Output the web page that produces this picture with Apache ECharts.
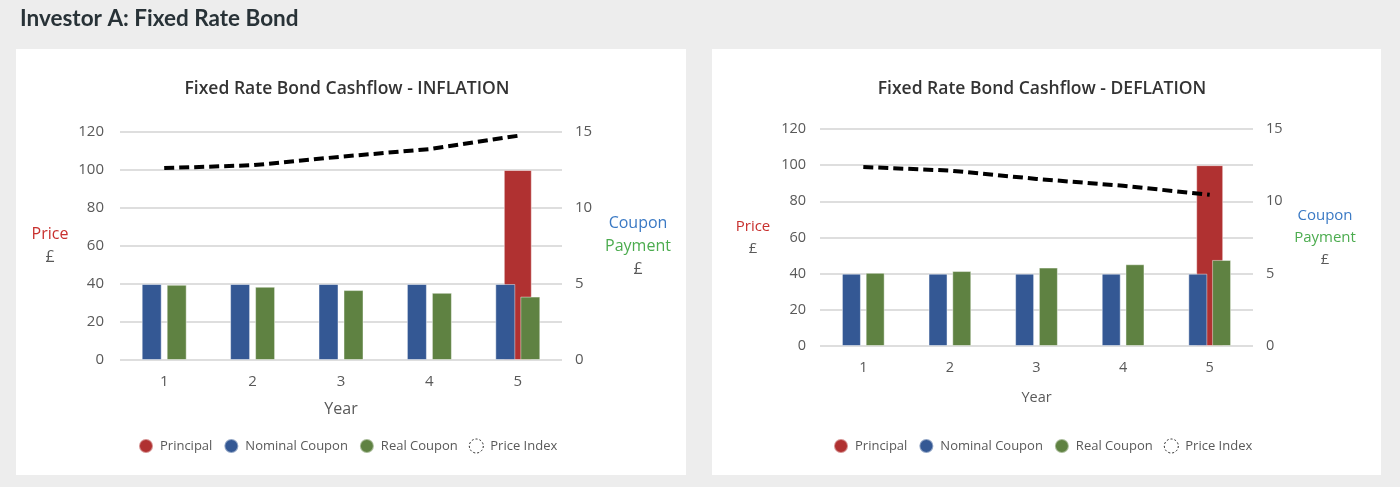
<!DOCTYPE html>
<html lang="en">
<head>
<meta charset="UTF-8">
<title>Investor A: Fixed Rate Bond</title>
<script src="https://cdn.jsdelivr.net/npm/echarts@6/dist/echarts.min.js"></script>
<style>
  html, body { margin: 0; padding: 0; background: #ededed; }
  #page { position: relative; width: 1400px; height: 487px; overflow: hidden; }
  .panel { position: absolute; top: 49px; height: 426px; background: #fff; }
  #chart { position: absolute; left: 0; top: 0; width: 1400px; height: 487px; }
</style>
</head>
<body>
<div id="page">
  <div class="panel" style="left:16px;width:670px;"></div>
  <div class="panel" style="left:712px;width:669px;"></div>
  <div id="chart"></div>
</div>
<script>
// data
var years = ['1', '2', '3', '4', '5'];
var principal = ['-', '-', '-', '-', 100];
var nominalCoupon = [5, 5, 5, 5, 5];
var realCouponInflation = [4.95, 4.82, 4.6, 4.42, 4.17];
var realCouponDeflation = [5.06, 5.18, 5.42, 5.65, 5.95];
var priceIndexInflation = [101, 102.5, 107, 111, 118];
var priceIndexDeflation = [99, 97, 92.4, 88.6, 83.6];
var seriesNames = ['Principal', 'Nominal Coupon', 'Real Coupon', 'Price Index'];

var FONT = '"Open Sans", sans-serif';
var RED = '#b03131', BLUE = '#345894', GREEN = '#5f8242';
var GRID_LINE = '#dedede', LABEL = '#595959';

// one chart per panel
var charts = [
  {
    title: 'Fixed Rate Bond Cashflow - INFLATION', titleX: 347, titleY: 89,
    grid: {left: 120, top: 132, width: 442, height: 228},
    real: realCouponInflation, index: priceIndexInflation,
    barW: 20, redW: 28, tick: 15, yearSize: 16, yearGap: 49, nameSize: 16,
    priceGap: 70, couponGap: 76, lh: 23, legendX: 138, legendY: 438
  },
  {
    title: 'Fixed Rate Bond Cashflow - DEFLATION', titleX: 1042, titleY: 89,
    grid: {left: 820, top: 129, width: 433, height: 217},
    real: realCouponDeflation, index: priceIndexDeflation,
    barW: 19, redW: 27, tick: 14.5, yearSize: 14.5, yearGap: 52, nameSize: 15,
    priceGap: 67, couponGap: 72, lh: 22, legendX: 833, legendY: 438
  }
];

var option = {
  animation: false,
  textStyle: {fontFamily: FONT},
  title: [{
    text: 'Investor A: Fixed Rate Bond',
    left: 20, top: 19, padding: 0, textVerticalAlign: 'middle',
    textStyle: {fontFamily: 'Lato', fontSize: 22.5, fontWeight: 'bold', color: '#283237'}
  }],
  grid: [], xAxis: [], yAxis: [], legend: [], series: []
};

charts.forEach(function (c, k) {
  option.title.push({
    text: c.title, left: c.titleX, top: c.titleY, padding: 0,
    textAlign: 'center', textVerticalAlign: 'middle',
    textStyle: {fontFamily: FONT, fontSize: 17.5, fontWeight: 600, color: '#333333'}
  });
  option.grid.push(c.grid);

  option.xAxis.push({
    type: 'category', gridIndex: k, data: years,
    name: 'Year', nameLocation: 'middle', nameGap: c.yearGap,
    nameTextStyle: {fontSize: c.yearSize, color: LABEL, verticalAlign: 'middle'},
    axisLine: {show: false}, axisTick: {show: false},
    axisLabel: {color: LABEL, fontSize: c.tick, margin: 14}
  });
  // hidden axis so Principal sits behind the coupon bars
  option.xAxis.push({type: 'category', gridIndex: k, data: years, show: false});

  option.yAxis.push({
    type: 'value', gridIndex: k, min: 0, max: 120, interval: 20,
    name: '{p|Price}\n{s|£}', nameLocation: 'middle', nameRotate: 0, nameGap: c.priceGap,
    nameTextStyle: {
      align: 'center', verticalAlign: 'middle',
      rich: {
        p: {color: '#c8302e', fontSize: c.nameSize, lineHeight: c.lh, fontFamily: FONT},
        s: {color: LABEL, fontSize: c.nameSize, lineHeight: c.lh, fontFamily: FONT}
      }
    },
    axisLine: {show: false}, axisTick: {show: false},
    axisLabel: {color: LABEL, fontSize: c.tick, margin: k ? 14 : 16},
    splitLine: {lineStyle: {color: GRID_LINE, width: 2}}
  });
  option.yAxis.push({
    type: 'value', gridIndex: k, position: 'right', min: 0, max: 15, interval: 5,
    name: '{c|Coupon}\n{g|Payment}\n{s|£}', nameLocation: 'middle', nameRotate: 0, nameGap: c.couponGap,
    nameTextStyle: {
      align: 'center', verticalAlign: 'middle',
      rich: {
        c: {color: '#3a79c4', fontSize: c.nameSize, lineHeight: c.lh, fontFamily: FONT},
        g: {color: '#4cac4f', fontSize: c.nameSize, lineHeight: c.lh, fontFamily: FONT},
        s: {color: LABEL, fontSize: c.nameSize, lineHeight: c.lh, fontFamily: FONT}
      }
    },
    axisLine: {show: false}, axisTick: {show: false}, splitLine: {show: false},
    axisLabel: {color: LABEL, fontSize: c.tick, margin: 13}
  });

  var bx = 2 * k, by = 2 * k;
  var edge = {borderColor: 'rgba(255,255,255,0.45)', borderWidth: 1};
  option.series.push({
    name: seriesNames[0], type: 'bar', xAxisIndex: bx + 1, yAxisIndex: by,
    data: principal, barWidth: c.redW, z: 2,
    itemStyle: Object.assign({color: RED}, edge)
  });
  option.series.push({
    name: seriesNames[1], type: 'bar', xAxisIndex: bx, yAxisIndex: by + 1,
    data: nominalCoupon, barWidth: c.barW, barGap: '25%', z: 3,
    itemStyle: Object.assign({color: BLUE}, edge)
  });
  option.series.push({
    name: seriesNames[2], type: 'bar', xAxisIndex: bx, yAxisIndex: by + 1,
    data: c.real, barWidth: c.barW, barGap: '25%', z: 3,
    itemStyle: Object.assign({color: GREEN}, edge)
  });
  option.series.push({
    name: seriesNames[3], type: 'line', xAxisIndex: bx, yAxisIndex: by,
    data: c.index, showSymbol: false, z: 5,
    itemStyle: {color: '#000'},
    lineStyle: {color: '#000', width: 4, type: [10, 5]}
  });

  option.legend.push({
    left: c.legendX, top: c.legendY, padding: 0, itemGap: 11,
    itemWidth: 14, itemHeight: 14,
    textStyle: {fontSize: 13, color: LABEL, padding: [0, 0, 0, 2]},
    data: [
      {name: seriesNames[0], icon: 'circle'},
      {name: seriesNames[1], icon: 'circle'},
      {name: seriesNames[2], icon: 'circle'},
      {name: seriesNames[3], icon: 'circle',
        itemStyle: {color: 'rgba(0,0,0,0)', borderColor: '#222', borderWidth: 1, borderType: [2, 2]}}
    ]
  });
});

var myChart = echarts.init(document.getElementById('chart'));
myChart.setOption(option);
</script>
</body>
</html>
